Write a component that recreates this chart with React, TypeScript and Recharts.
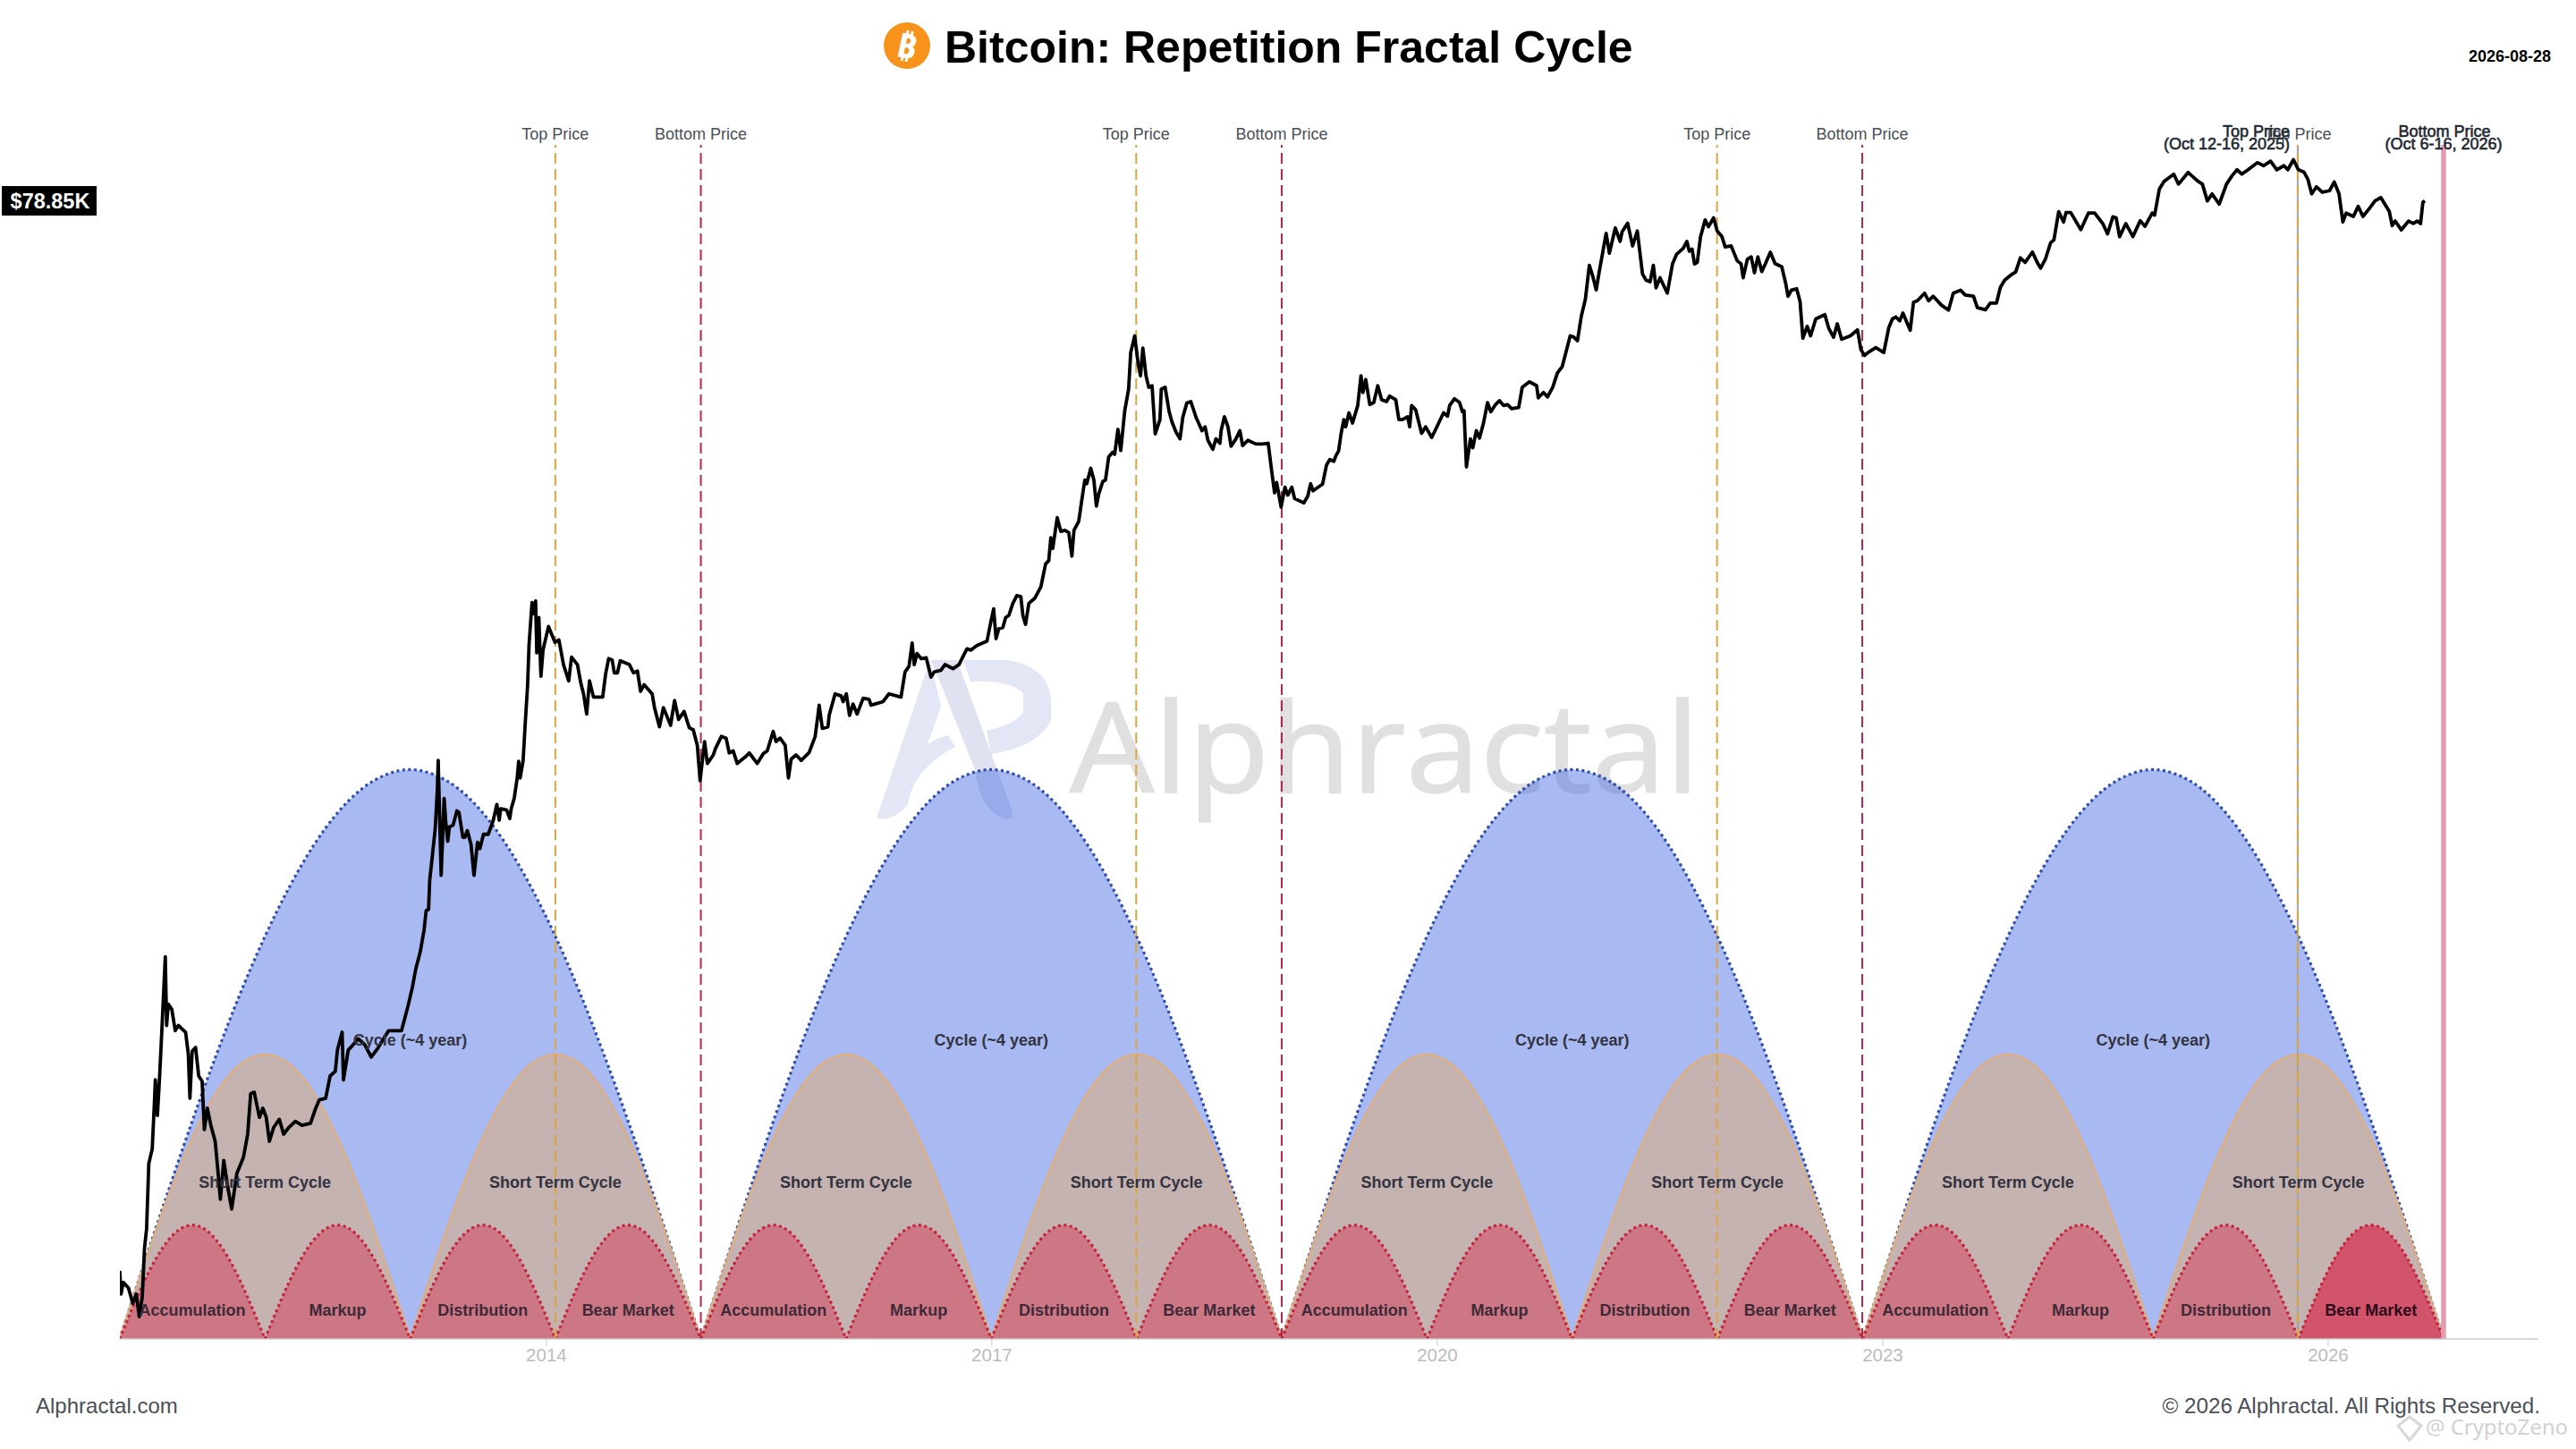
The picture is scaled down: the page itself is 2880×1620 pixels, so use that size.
import React from 'react';
import { ComposedChart, Area, Line, XAxis, YAxis, ReferenceLine, ReferenceDot } from 'recharts';

type P = [number, number];

const FONT = '"Liberation Sans", Arial, sans-serif';

// Price line: [decimal year, USD]
const price2011: P[] = [[2011.126,0.96],[2011.135,0.75],[2011.15,0.85],[2011.185,0.8],[2011.214,0.68],[2011.237,0.75],[2011.258,0.59],[2011.278,0.73],[2011.293,1.22],[2011.307,1.5],[2011.322,3],[2011.345,3.5],[2011.36,5.8],[2011.366,7.3],[2011.38,5],[2011.395,7.6],[2011.413,13.7],[2011.433,27],[2011.442,13],[2011.453,16.3],[2011.477,15.4],[2011.5,12.3],[2011.521,13],[2011.57,12.1],[2011.588,9.6],[2011.599,6],[2011.614,9.9],[2011.637,10.3],[2011.658,7.6],[2011.681,7.2],[2011.696,4.3],[2011.716,5.4],[2011.74,4.5],[2011.769,3.8],[2011.789,2.7],[2011.804,2.05],[2011.827,3.1],[2011.851,2.4],[2011.88,1.85],[2011.915,2.7],[2011.959,3.2],[2011.988,4.1],[2012.008,6.3],[2012.032,6.4],[2012.067,4.9],[2012.09,5.4],[2012.113,4.9],[2012.134,3.8],[2012.163,4.4],[2012.201,4.8],[2012.23,4.1],[2012.265,4.4],[2012.309,4.7],[2012.353,4.5],[2012.411,4.6],[2012.446,5.4],[2012.47,5.9],[2012.513,6],[2012.543,7.6],[2012.578,8],[2012.592,10],[2012.624,12.1],[2012.633,7.3],[2012.665,10],[2012.709,10.8],[2012.732,11.3],[2012.776,10.6],[2012.82,9.3],[2012.864,10.2],[2012.937,12.3],[2013.024,12.3],[2013.068,16],[2013.097,19.5]];

const price2013: P[] = [[2013.12,23.7],[2013.15,28.4],[2013.176,35.9],[2013.19,44],[2013.206,44.6],[2013.214,61],[2013.23,77],[2013.251,105],[2013.265,158],[2013.271,217],[2013.291,64],[2013.311,145],[2013.321,115],[2013.335,92],[2013.347,107],[2013.371,109],[2013.397,127],[2013.411,125],[2013.437,96],[2013.451,96],[2013.467,103],[2013.492,89],[2013.512,64],[2013.536,91],[2013.552,85],[2013.576,99],[2013.608,99],[2013.642,115],[2013.666,136],[2013.682,115],[2013.692,130],[2013.732,128],[2013.753,117],[2013.763,130],[2013.783,145],[2013.803,180],[2013.813,215],[2013.823,180],[2013.843,217],[2013.857,320],[2013.873,480],[2013.883,745],[2013.903,1160],[2013.913,1030],[2013.927,1180],[2013.935,680],[2013.949,990],[2013.963,530],[2013.977,700],[2014.014,900],[2014.038,820],[2014.058,760],[2014.084,780]];

const price2014: P[] = [[2014.115,600],[2014.15,505],[2014.169,650],[2014.209,600],[2014.231,495],[2014.25,440],[2014.271,355],[2014.29,505],[2014.317,425],[2014.379,425],[2014.398,540],[2014.419,640],[2014.443,630],[2014.457,550],[2014.478,550],[2014.497,625],[2014.559,600],[2014.586,550],[2014.613,560],[2014.634,452],[2014.658,485],[2014.712,440],[2014.728,380],[2014.761,310],[2014.788,380],[2014.836,315],[2014.863,410],[2014.89,335],[2014.927,365],[2014.962,307],[2014.989,300],[2015.016,255],[2015.035,175],[2015.065,265],[2015.084,210],[2015.124,230],[2015.137,245],[2015.178,280],[2015.21,275],[2015.231,235],[2015.258,240],[2015.285,210],[2015.339,225],[2015.366,235],[2015.42,210],[2015.46,233],[2015.487,240],[2015.527,295],[2015.546,265],[2015.573,275],[2015.608,255],[2015.63,180],[2015.648,220],[2015.681,230],[2015.716,217],[2015.769,236],[2015.81,280],[2015.837,390],[2015.858,305],[2015.896,310],[2015.904,350],[2015.944,440],[2015.985,430],[2015.998,405]];

const price2016: P[] = [[2016.02,440],[2016.041,350],[2016.065,395],[2016.092,355],[2016.133,420],[2016.173,415],[2016.186,390],[2016.267,405],[2016.307,440],[2016.388,425],[2016.415,555],[2016.442,590],[2016.463,755],[2016.477,600],[2016.496,675],[2016.523,640],[2016.558,645],[2016.59,525],[2016.611,555],[2016.657,565],[2016.684,600],[2016.738,575],[2016.778,600],[2016.832,710],[2016.859,700],[2016.899,735],[2016.967,770],[2016.993,945],[2017.012,1085],[2017.028,790],[2017.047,880],[2017.074,890],[2017.093,990],[2017.114,1010],[2017.141,1150],[2017.168,1250],[2017.195,1235],[2017.209,1010],[2017.227,920],[2017.249,1150],[2017.289,1215],[2017.33,1370],[2017.362,1750],[2017.383,1810],[2017.397,2310],[2017.41,2060],[2017.44,2860],[2017.464,2470],[2017.491,2500],[2017.518,2440],[2017.539,1900],[2017.553,2500],[2017.585,2750],[2017.607,3500],[2017.626,4260],[2017.639,4100],[2017.666,4830],[2017.687,4260],[2017.704,3230],[2017.72,3680],[2017.747,4200],[2017.765,4260],[2017.787,5450],[2017.814,5730],[2017.827,5600],[2017.849,7300],[2017.868,5830],[2017.895,8900],[2017.921,11200],[2017.935,16500],[2017.962,19700]];

const price2018: P[] = [[2017.985,14700],[2018.001,12900],[2018.017,17300],[2018.038,12900],[2018.057,11400],[2018.079,11600],[2018.1,6950],[2018.132,8100],[2018.141,11200],[2018.167,11400],[2018.194,8800],[2018.213,7900],[2018.24,7100],[2018.267,6600],[2018.286,8300],[2018.313,9650],[2018.34,9800],[2018.375,8300],[2018.415,7200],[2018.436,7500],[2018.455,6500],[2018.488,5900],[2018.509,6600],[2018.536,6300],[2018.544,7200],[2018.566,8350],[2018.59,7500],[2018.611,6100],[2018.644,6600],[2018.67,7200],[2018.689,6150],[2018.724,6500],[2018.778,6250],[2018.824,6250],[2018.861,6300],[2018.886,4600],[2018.904,3720],[2018.918,4150],[2018.948,3200],[2018.974,3950],[2018.993,3630],[2019.02,3950],[2019.039,3500],[2019.101,3340],[2019.128,3600],[2019.147,4100],[2019.163,3800],[2019.227,4080],[2019.254,5000],[2019.276,5300],[2019.303,5200],[2019.316,5500],[2019.335,5800],[2019.351,6900],[2019.37,8100],[2019.383,7500],[2019.405,8700],[2019.429,7800],[2019.464,9400],[2019.486,12900],[2019.499,10800],[2019.518,12400],[2019.545,9500],[2019.572,9700],[2019.599,11600],[2019.625,10000],[2019.658,9800],[2019.679,10400],[2019.72,10000],[2019.741,8100],[2019.765,8100],[2019.8,8350],[2019.814,7500],[2019.827,9400],[2019.854,9000],[2019.894,7000],[2019.921,7500],[2019.962,6700],[2019.989,7300]];

const price2020: P[] = [[2020.042,8700],[2020.069,8400],[2020.083,9400],[2020.115,10100],[2020.15,9700],[2020.169,8800],[2020.18,8900],[2020.196,4900],[2020.223,6600],[2020.239,6000],[2020.263,7200],[2020.284,6650],[2020.311,7800],[2020.338,9700],[2020.36,8800],[2020.392,9500],[2020.419,9900],[2020.446,9400],[2020.473,9500],[2020.5,9100],[2020.548,9200],[2020.572,11400],[2020.621,12100],[2020.669,11600],[2020.68,10200],[2020.715,10800],[2020.742,10300],[2020.777,11400],[2020.809,13300],[2020.841,14200],[2020.863,16200],[2020.895,19700],[2020.917,19500],[2020.944,18700],[2020.97,24300],[2020.997,29000],[2021.024,41700],[2021.046,37300],[2021.07,32100],[2021.091,39100],[2021.113,47400],[2021.137,58500],[2021.159,47400],[2021.199,62000],[2021.231,53700],[2021.245,59600],[2021.282,65200],[2021.315,51200],[2021.347,60000],[2021.382,38000],[2021.406,35600],[2021.433,35000],[2021.455,41700],[2021.473,32800],[2021.5,36500],[2021.549,31000],[2021.584,42300],[2021.611,46800],[2021.656,49900],[2021.681,53700],[2021.697,48400],[2021.716,49500],[2021.732,42300],[2021.751,43000],[2021.772,56200],[2021.804,67500],[2021.826,62800],[2021.861,69000],[2021.885,60000],[2021.917,56500],[2021.939,50600],[2021.979,51200],[2022.02,43700],[2022.046,42300],[2022.06,36500]];

const price2022: P[] = [[2022.088,44400],[2022.114,45600],[2022.136,38500],[2022.159,45600],[2022.185,39000],[2022.21,42400],[2022.243,47900],[2022.275,42400],[2022.32,41000],[2022.346,34500],[2022.362,30000],[2022.385,32000],[2022.42,32500],[2022.443,28400],[2022.462,19200],[2022.491,21800],[2022.514,19700],[2022.549,23600],[2022.61,24700],[2022.636,21400],[2022.669,19400],[2022.694,22400],[2022.723,19000],[2022.782,19700],[2022.83,21000],[2022.853,17000],[2022.878,16000],[2022.901,16500],[2022.953,17400],[2023.007,16500],[2023.04,21400],[2023.065,23600],[2023.088,24100],[2023.114,23100],[2023.136,25100],[2023.185,20900],[2023.207,28100],[2023.233,28600],[2023.282,31000],[2023.308,28600],[2023.34,30000],[2023.395,27300],[2023.443,25900],[2023.475,31000],[2023.524,32000],[2023.556,30400],[2023.611,30000],[2023.637,26600],[2023.692,26000],[2023.724,27900],[2023.766,27900],[2023.792,33000],[2023.821,35600],[2023.863,37600],[2023.895,38800],[2023.927,45100],[2023.959,43000]];

const price2024: P[] = [[2024.008,48000],[2024.04,43000],[2024.063,40400],[2024.095,44400],[2024.13,52800],[2024.153,54600],[2024.185,73700],[2024.218,66000],[2024.234,73000],[2024.266,73000],[2024.298,67000],[2024.334,60900],[2024.385,72600],[2024.427,72600],[2024.482,64900],[2024.514,58200],[2024.55,69800],[2024.572,69000],[2024.595,56500],[2024.637,64900],[2024.653,62000],[2024.685,56500],[2024.734,67000],[2024.766,63000],[2024.815,72600],[2024.831,71000],[2024.863,93800],[2024.895,101700],[2024.96,109700],[2024.992,98700],[2025.057,111700],[2025.121,102000],[2025.153,98700],[2025.186,82600],[2025.218,89000],[2025.266,79800],[2025.315,98700],[2025.353,108000],[2025.386,115000],[2025.418,109700],[2025.46,115000],[2025.524,124000],[2025.566,120000],[2025.612,126000],[2025.654,115000],[2025.702,120000],[2025.728,115000],[2025.766,128000],[2025.799,115000],[2025.838,112000],[2025.863,104000],[2025.889,89000],[2025.921,96000],[2025.96,90600],[2026.009,92000],[2026.041,101000],[2026.073,89000],[2026.099,66000],[2026.121,72600],[2026.17,70000],[2026.202,78000],[2026.234,70000],[2026.276,76000],[2026.315,82600],[2026.354,85600],[2026.412,73700],[2026.431,63500],[2026.451,66700],[2026.493,60700],[2026.541,66700],[2026.573,65000],[2026.599,66700],[2026.622,64900],[2026.638,81400],[2026.651,82600]];

const priceRows = [...price2011, ...price2013, ...price2014, ...price2016, ...price2018, ...price2020, ...price2022, ...price2024].map(([year, price]) => ({ year, price }));

// Cycle geometry
const cycleStarts = [2011.126, 2015.04, 2018.952, 2022.865];
const cycleSpan = 3.9127;
const cycleEnd = 2026.777;
const topDates = [2014.06, 2017.972, 2021.884, 2025.795];
const bottomDates = [2015.04, 2018.952, 2022.862];
const tickYears = [2014, 2017, 2020, 2023, 2026];
const phaseNames = ['Accumulation', 'Markup', 'Distribution', 'Bear Market'];

// height of an arch across its width
const archProfile = [0, 0.131, 0.259, 0.383, 0.5, 0.609, 0.707, 0.793, 0.866, 0.924, 0.966, 0.991, 1, 0.991, 0.966, 0.924, 0.866, 0.793, 0.707, 0.609, 0.5, 0.383, 0.259, 0.131, 0];

const arch = (start: number, span: number, peak: number) =>
  archProfile.map((h, i) => ({ year: start + (span * i) / (archProfile.length - 1), h: h * peak }));

const bigArches = cycleStarts.map((s) => arch(s, cycleSpan, 1));
const midArches = cycleStarts.flatMap((s) => [arch(s, cycleSpan / 2, 0.5), arch(s + cycleSpan / 2, cycleSpan / 2, 0.5)]);
const smallArches = cycleStarts.flatMap((s) => [0, 1, 2, 3].map((q) => arch(s + (q * cycleSpan) / 4, cycleSpan / 4, 0.2)));

const boldLabel = (value: string, fill = '#33323f') => ({ value, position: 'center' as const, fill, fontSize: 18, fontWeight: 700, fontFamily: FONT });

const topLabel = (value: string) => ({ value, position: 'top' as const, offset: 6, fill: '#4a4f57', fontSize: 18, fontFamily: FONT });

export default function App() {
  return (
    <div style={{ position: 'absolute', left: 0, top: 0, width: 2880, height: 1620, background: '#fff', fontFamily: FONT, overflow: 'hidden' }}>
      <svg width={2880} height={1620} style={{ position: 'absolute', left: 0, top: 0 }}>
        <path d="M1040 737 L980 915 Q1000 918 1015 900 Q1020 860 1068 835 L1060 822 Q1048 825 1037 832 L1052 790 Z" fill="#e3e6f5" />
        <path d="M1041 738 L1070 738 L1131 905 Q1135 918 1122 915 Q1095 905 1090 860 Z" fill="#e0e2f1" />
        <path d="M1077 738 L1126 738 Q1172 745 1175 782 L1175 806 Q1160 835 1108 843 L1103 817 Q1135 810 1144 796 L1144 775 Q1130 760 1085 762 Z" fill="#e3e6f5" />
        <text x={1196} y={886} fontFamily="Open Sans" fontSize={140} fill="#e0e0e0" stroke="#e0e0e0" strokeWidth={1.5} textLength={704} lengthAdjust="spacingAndGlyphs">Alphractal</text>
      </svg>

      <div style={{ position: 'absolute', left: 0, top: 0 }}>
        <ComposedChart width={2880} height={1620} margin={{ top: 162, right: 42, bottom: 63, left: 134 }}>
          <XAxis
            dataKey="year"
            type="number"
            domain={[2011.127, 2027.416]}
            allowDataOverflow
            ticks={tickYears}
            height={60}
            tickSize={8}
            tick={{ fill: '#bcbcc0', fontSize: 20.5, fontFamily: FONT }}
            tickLine={{ stroke: '#ccc' }}
            axisLine={{ stroke: '#ccc', strokeWidth: 1.5 }}
          />
          <YAxis yAxisId="price" hide scale="log" domain={[0.4656, 149700]} allowDataOverflow />
          <YAxis yAxisId="arch" hide type="number" domain={[0, 2.097]} allowDataOverflow />

          {bigArches.map((d, i) => (
            <Area key={`big${i}`} data={d} dataKey="h" yAxisId="arch" type="monotone" baseValue={0} isAnimationActive={false}
              fill="#4169e1" fillOpacity={0.46} stroke="#2e4cae" strokeWidth={3.2} strokeDasharray="3 3.5" />
          ))}
          {midArches.map((d, i) => (
            <Area key={`mid${i}`} data={d} dataKey="h" yAxisId="arch" type="monotone" baseValue={0} isAnimationActive={false}
              fill="#ffa832" fillOpacity={0.33} stroke="#dcae83" strokeWidth={2.5} />
          ))}
          {smallArches.map((d, i) => (
            <Area key={`small${i}`} data={d} dataKey="h" yAxisId="arch" type="monotone" baseValue={0} isAnimationActive={false}
              fill="#dc143c" fillOpacity={i === smallArches.length - 1 ? 0.6 : 0.38} stroke="#c8203a" strokeWidth={3.2} strokeDasharray="3 3.5" />
          ))}

          <ReferenceLine x={topDates[3]} yAxisId="price" stroke="#9aa3b8" strokeWidth={2} ifOverflow="visible" />
          {topDates.map((d) => (
            <ReferenceLine key={`t${d}`} x={d} yAxisId="price" stroke="#dca53f" strokeWidth={2} strokeDasharray="12 6" label={topLabel('Top Price')} ifOverflow="visible" />
          ))}
          {bottomDates.map((d) => (
            <ReferenceLine key={`b${d}`} x={d} yAxisId="price" stroke="#b4264e" strokeWidth={2} strokeDasharray="12 6" label={topLabel('Bottom Price')} ifOverflow="visible" />
          ))}
          <ReferenceLine x={cycleEnd} yAxisId="price" stroke="#e69aae" strokeWidth={5.5} ifOverflow="visible" />

          {cycleStarts.map((s) => (
            <ReferenceDot key={`c${s}`} x={s + cycleSpan / 2} y={0.526} yAxisId="arch" r={0} fill="none" stroke="none" label={boldLabel('Cycle (~4 year)')} ifOverflow="visible" />
          ))}
          {cycleStarts.flatMap((s) => [0.25, 0.75].map((f) => (
            <ReferenceDot key={`s${s}${f}`} x={s + cycleSpan * f} y={0.276} yAxisId="arch" r={0} fill="none" stroke="none" label={boldLabel('Short Term Cycle')} ifOverflow="visible" />
          )))}
          {cycleStarts.flatMap((s, ci) => phaseNames.map((name, q) => (
            <ReferenceDot key={`p${s}${q}`} x={s + (cycleSpan * (q + 0.5)) / 4} y={0.051} yAxisId="arch" r={0} fill="none" stroke="none"
              label={boldLabel(name, ci === 3 && q === 3 ? '#2a0a1c' : '#3c2a38')} ifOverflow="visible" />
          )))}

          <Line data={priceRows} dataKey="price" yAxisId="price" type="linear" dot={false} stroke="#000" strokeWidth={3.8} strokeLinejoin="round" isAnimationActive={false} />
        </ComposedChart>
      </div>

      <svg width={2880} height={1620} style={{ position: 'absolute', left: 0, top: 0, pointerEvents: 'none' }} fontFamily={FONT}>
        <circle cx={1014} cy={51} r={26} fill="#f7931a" />
        <text x={1014} y={65} textAnchor="middle" fontFamily="Noto Sans" fontWeight={700} fontSize={38} fill="#fff" transform="rotate(12 1014 51)">₿</text>
        <text x={1056} y={70} fontSize={50} fontWeight={700} fill="#000">Bitcoin: Repetition Fractal Cycle</text>
        <text x={2852} y={69} textAnchor="end" fontSize={18} fontWeight={700} fill="#000">2026-08-28</text>

        <rect x={2} y={208} width={106} height={33} fill="#000" />
        <text x={56} y={233} textAnchor="middle" fontSize={23.5} fontWeight={700} fill="#fff">$78.85K</text>

        <text x={2560} y={153} textAnchor="end" fontSize={18} fill="#1f2933" stroke="#1f2933" strokeWidth={0.6}>Top Price</text>
        <text x={2560} y={167} textAnchor="end" fontSize={18} fill="#1f2933" stroke="#1f2933" strokeWidth={0.6}>(Oct 12-16, 2025)</text>
        <text x={2733} y={153} textAnchor="middle" fontSize={18} fill="#1f2933" stroke="#1f2933" strokeWidth={0.6}>Bottom Price</text>
        <text x={2732} y={167} textAnchor="middle" fontSize={18} fill="#1f2933" stroke="#1f2933" strokeWidth={0.6}>(Oct 6-16, 2026)</text>

        <text x={40} y={1580} fontSize={24} fill="#4a4f57">Alphractal.com</text>
        <text x={2840} y={1580} textAnchor="end" fontSize={24.2} fill="#4a4f57">© 2026 Alphractal. All Rights Reserved.</text>

        <path d="M2694 1584 L2681 1594 L2694 1610 L2707 1594 Z" fill="none" stroke="#d8d8d8" strokeWidth={3} />
        <text x={2712} y={1604} fontFamily="Noto Sans" fontSize={24} fill="#d2d2d2" textLength={159}>@ CryptoZeno</text>
      </svg>
    </div>
  );
}
